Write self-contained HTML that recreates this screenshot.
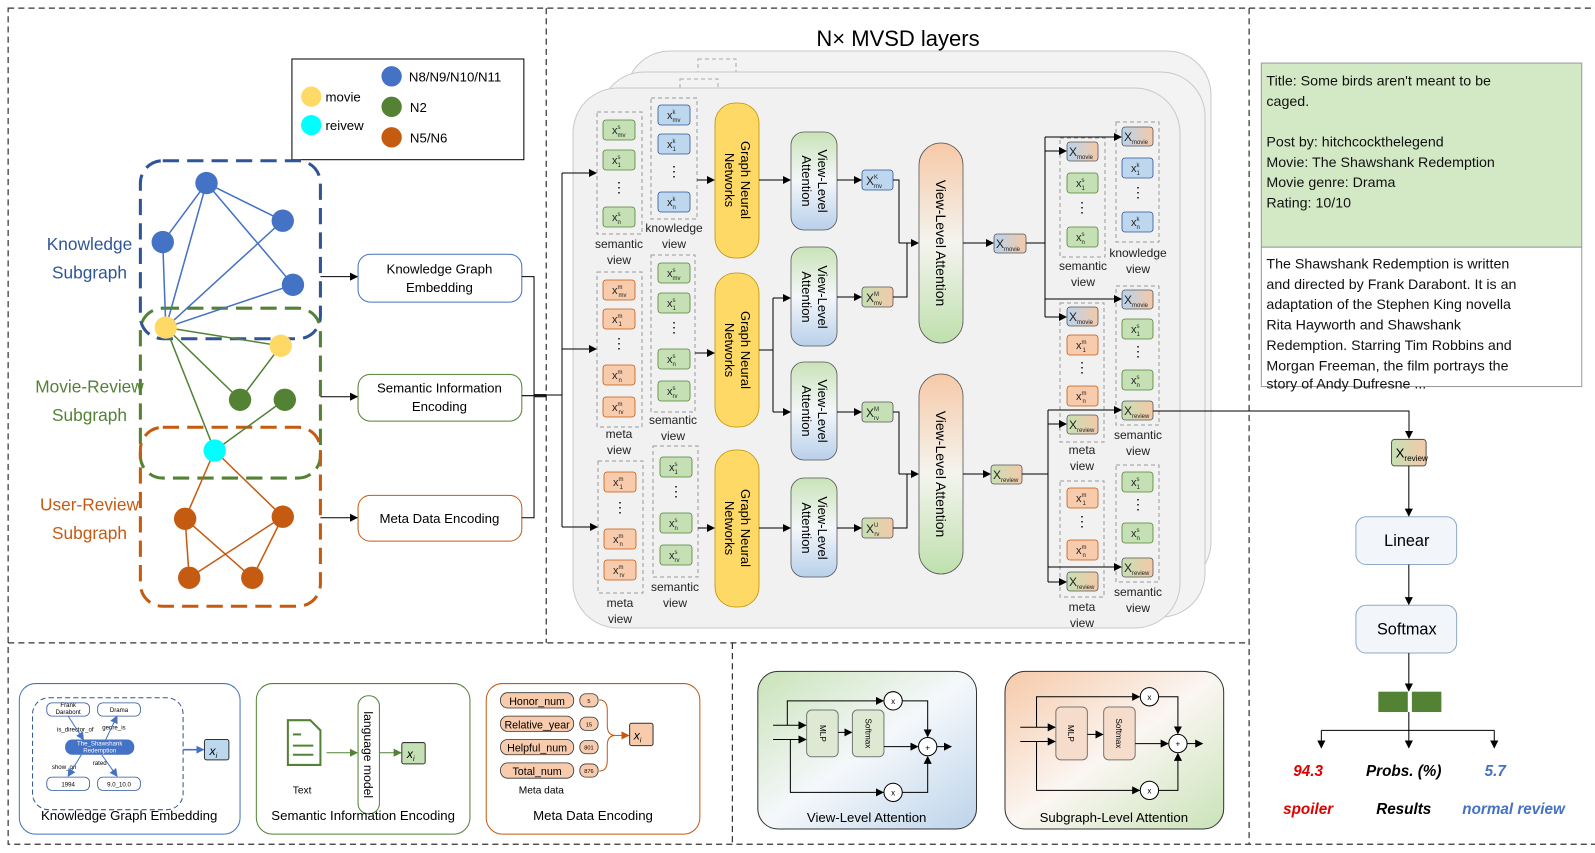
<!DOCTYPE html>
<html><head><meta charset="utf-8"><style>
html,body{margin:0;padding:0;background:#fff}
svg{display:block;font-family:"Liberation Sans",sans-serif}
</style></head><body>
<svg width="1595" height="853" viewBox="0 0 1595 853" xmlns="http://www.w3.org/2000/svg">
<defs>
<marker id="a" markerWidth="8" markerHeight="8" refX="7" refY="4" orient="auto" markerUnits="userSpaceOnUse"><path d="M0,0 L8,4 L0,8 z" fill="#000"/></marker>
<marker id="ab" markerWidth="8" markerHeight="8" refX="7" refY="4" orient="auto" markerUnits="userSpaceOnUse"><path d="M0,0 L8,4 L0,8 z" fill="#4472c4"/></marker>
<marker id="ag" markerWidth="8" markerHeight="8" refX="7" refY="4" orient="auto" markerUnits="userSpaceOnUse"><path d="M0,0 L8,4 L0,8 z" fill="#548235"/></marker>
<marker id="ao" markerWidth="8" markerHeight="8" refX="7" refY="4" orient="auto" markerUnits="userSpaceOnUse"><path d="M0,0 L8,4 L0,8 z" fill="#c55a11"/></marker>
<linearGradient id="gbl" x1="0" y1="0" x2="1" y2="1"><stop offset="0" stop-color="#c9e3b8"/><stop offset="0.5" stop-color="#f5f8fb"/><stop offset="1" stop-color="#bcd3ea"/></linearGradient>
<linearGradient id="gog" x1="0" y1="0" x2="1" y2="1"><stop offset="0" stop-color="#f6c9a8"/><stop offset="0.5" stop-color="#fbf6f2"/><stop offset="1" stop-color="#c9e3b8"/></linearGradient>
<linearGradient id="gmv" x1="0" y1="0" x2="1" y2="0"><stop offset="0" stop-color="#b8d3ee"/><stop offset="1" stop-color="#f4c9a8"/></linearGradient>
<linearGradient id="grv" x1="0" y1="0" x2="1" y2="0"><stop offset="0" stop-color="#c5e0b4"/><stop offset="1" stop-color="#f4c9a8"/></linearGradient>
<linearGradient id="gvl" x1="0" y1="0" x2="0" y2="1"><stop offset="0" stop-color="#c9e3b8"/><stop offset="0.5" stop-color="#f4f7fa"/><stop offset="1" stop-color="#b8d0ea"/></linearGradient>
<linearGradient id="gbig" x1="0" y1="0" x2="0" y2="1"><stop offset="0" stop-color="#f6c9a8"/><stop offset="0.5" stop-color="#f4f4ee"/><stop offset="1" stop-color="#bfe0ad"/></linearGradient>
</defs>

<g transform="scale(1.0172)">
<!-- frame -->
<g fill="none" stroke="#333" stroke-width="1.2" stroke-dasharray="6,4">
<rect x="8" y="8" width="1580" height="822"/>
<line x1="537" y1="8" x2="537" y2="632"/>
<line x1="1228" y1="8" x2="1228" y2="830"/>
<line x1="8" y1="632" x2="1228" y2="632"/>
<line x1="720" y1="632" x2="720" y2="830"/>
</g>

<!-- LEFT PANEL -->
<rect x="287" y="58" width="228" height="99" fill="#fff" stroke="#000"/>
<circle cx="306" cy="95" r="10" fill="#ffd966"/><text x="320" y="100" font-size="13">movie</text>
<circle cx="306" cy="123" r="10" fill="#00ffff"/><text x="320" y="128" font-size="13">reivew</text>
<circle cx="385" cy="75" r="10" fill="#4472c4"/><text x="402" y="80" font-size="13">N8/N9/N10/N11</text>
<circle cx="385" cy="105" r="10" fill="#548235"/><text x="403" y="110" font-size="13">N2</text>
<circle cx="385" cy="135" r="10" fill="#c55a11"/><text x="403" y="140" font-size="13">N5/N6</text>

<g fill="none" stroke-width="3" stroke-dasharray="16,8">
<rect x="138" y="158" width="177" height="175" rx="22" stroke="#2f5597"/>
<rect x="138" y="303" width="177" height="167" rx="22" stroke="#548235"/>
<rect x="138" y="420" width="177" height="176" rx="22" stroke="#c55a11"/>
</g>
<g stroke-width="1.5">
<g stroke="#4472c4">
<line x1="203" y1="180" x2="160" y2="238"/><line x1="203" y1="180" x2="278" y2="217"/><line x1="203" y1="180" x2="288" y2="280"/>
<line x1="203" y1="180" x2="163" y2="322"/><line x1="163" y1="322" x2="278" y2="217"/><line x1="163" y1="322" x2="288" y2="280"/><line x1="160" y1="238" x2="163" y2="322"/>
</g>
<g stroke="#548235">
<line x1="163" y1="322" x2="276" y2="340"/><line x1="163" y1="322" x2="236" y2="393"/><line x1="163" y1="322" x2="211" y2="443"/>
<line x1="211" y1="443" x2="280" y2="393"/><line x1="276" y1="340" x2="236" y2="393"/>
</g>
<g stroke="#c55a11">
<line x1="211" y1="443" x2="182" y2="510"/><line x1="211" y1="443" x2="278" y2="508"/><line x1="182" y1="510" x2="186" y2="568"/>
<line x1="182" y1="510" x2="248" y2="568"/><line x1="278" y1="508" x2="186" y2="568"/><line x1="278" y1="508" x2="248" y2="568"/>
</g>
</g>
<g fill="#4472c4"><circle cx="203" cy="180" r="11"/><circle cx="160" cy="238" r="11"/><circle cx="278" cy="217" r="11"/><circle cx="288" cy="280" r="11"/></g>
<g fill="#ffd966"><circle cx="163" cy="322" r="11"/><circle cx="276" cy="340" r="11"/></g>
<g fill="#548235"><circle cx="236" cy="393" r="11"/><circle cx="280" cy="393" r="11"/></g>
<circle cx="211" cy="443" r="11" fill="#00ffff"/>
<g fill="#c55a11"><circle cx="182" cy="510" r="11"/><circle cx="278" cy="508" r="11"/><circle cx="186" cy="568" r="11"/><circle cx="248" cy="568" r="11"/></g>

<g font-size="17" text-anchor="middle">
<text x="88" y="246" fill="#2f5597">Knowledge</text><text x="88" y="274" fill="#2f5597">Subgraph</text>
<text x="88" y="386" fill="#548235">Movie-Review</text><text x="88" y="414" fill="#548235">Subgraph</text>
<text x="88" y="502" fill="#c55a11">User-Review</text><text x="88" y="530" fill="#c55a11">Subgraph</text>
</g>

<rect x="352" y="250" width="161" height="47" rx="12" fill="#fff" stroke="#4472c4"/>
<text x="432" y="269" font-size="13" text-anchor="middle">Knowledge Graph</text><text x="432" y="287" font-size="13" text-anchor="middle">Embedding</text>
<rect x="352" y="368" width="161" height="46" rx="12" fill="#fff" stroke="#548235"/>
<text x="432" y="386" font-size="13" text-anchor="middle">Semantic Information</text><text x="432" y="404" font-size="13" text-anchor="middle">Encoding</text>
<rect x="352" y="487" width="161" height="45" rx="12" fill="#fff" stroke="#c55a11"/>
<text x="432" y="514" font-size="13" text-anchor="middle">Meta Data Encoding</text>
<g stroke="#000" stroke-width="1" fill="none">
<line x1="315" y1="272" x2="351" y2="272" marker-end="url(#a)"/>
<line x1="315" y1="390" x2="351" y2="390" marker-end="url(#a)"/>
<line x1="315" y1="509" x2="351" y2="509" marker-end="url(#a)"/>
<polyline points="513,272 525,272 525,388 537,388"/>
<polyline points="513,389 537,389"/>
<polyline points="513,509 525,509 525,390 537,390"/>
</g>

<!-- RIGHT PANEL -->
<rect x="1240" y="62" width="315" height="181" fill="#d3e9c5" stroke="#999"/>
<rect x="1240" y="243" width="315" height="137" fill="#fff" stroke="#999"/>
<g font-size="14" fill="#111">
<text x="1245" y="84">Title: Some birds aren't meant to be</text>
<text x="1245" y="104">caged.</text>
<text x="1245" y="144">Post by: hitchcockthelegend</text>
<text x="1245" y="164">Movie: The Shawshank Redemption</text>
<text x="1245" y="184">Movie genre: Drama</text>
<text x="1245" y="204">Rating: 10/10</text>
<text x="1245" y="264">The Shawshank Redemption is written</text>
<text x="1245" y="284">and directed by Frank Darabont. It is an</text>
<text x="1245" y="304">adaptation of the Stephen King novella</text>
<text x="1245" y="324">Rita Hayworth and Shawshank</text>
<text x="1245" y="344">Redemption. Starring Tim Robbins and</text>
<text x="1245" y="364">Morgan Freeman, the film portrays the</text>
<text x="1245" y="382">story of Andy Dufresne ...</text>
</g>
<rect x="1368" y="432" width="34" height="26" rx="3" fill="url(#grv)" stroke="#555"/>
<text x="1372" y="450" font-size="13">X<tspan font-size="8" dy="3">review</tspan></text>
<rect x="1333" y="508" width="99" height="47" rx="10" fill="#f2f6fb" stroke="#8fa9c9"/>
<text x="1383" y="537" font-size="16" text-anchor="middle">Linear</text>
<rect x="1333" y="595" width="99" height="47" rx="10" fill="#f2f6fb" stroke="#8fa9c9"/>
<text x="1383" y="624" font-size="16" text-anchor="middle">Softmax</text>
<g stroke="#000" fill="none">
<line x1="1385" y1="458" x2="1385" y2="507" marker-end="url(#a)"/>
<line x1="1385" y1="555" x2="1385" y2="594" marker-end="url(#a)"/>
<line x1="1385" y1="642" x2="1385" y2="679" marker-end="url(#a)"/>
<line x1="1385" y1="700" x2="1385" y2="718"/>
<line x1="1299" y1="718" x2="1469" y2="718"/>
<line x1="1299" y1="718" x2="1299" y2="735" marker-end="url(#a)"/>
<line x1="1385" y1="718" x2="1385" y2="735" marker-end="url(#a)"/>
<line x1="1469" y1="718" x2="1469" y2="735" marker-end="url(#a)"/>
</g>
<rect x="1355" y="680" width="29" height="20" fill="#548235"/><rect x="1388" y="680" width="29" height="20" fill="#548235"/>
<g font-size="15" font-weight="bold" font-style="italic" text-anchor="middle">
<text x="1286" y="763" fill="#e00000">94.3</text>
<text x="1380" y="763" fill="#000">Probs. (%)</text>
<text x="1470" y="763" fill="#4472c4">5.7</text>
<text x="1286" y="800" fill="#e00000">spoiler</text>
<text x="1380" y="800" fill="#000">Results</text>
<text x="1488" y="800" fill="#4472c4">normal review</text>
</g>

<!-- BOTTOM LEFT -->
<rect x="19" y="672" width="217" height="148" rx="16" fill="#fff" stroke="#4472c4"/>
<rect x="32" y="686" width="148" height="110" rx="16" fill="none" stroke="#2f5597" stroke-dasharray="5,3"/>
<g fill="#fff" stroke="#2f5597" stroke-width="0.8">
<rect x="46" y="691" width="42" height="13" rx="5"/><rect x="96" y="691" width="42" height="13" rx="5"/>
<rect x="46" y="764" width="42" height="13" rx="5"/><rect x="96" y="764" width="42" height="13" rx="5"/>
</g>
<rect x="64" y="727" width="68" height="15" rx="7" fill="#4472c4"/>
<g font-size="6" text-anchor="middle">
<text x="67" y="695">Frank</text><text x="67" y="702">Darabont</text><text x="117" y="700">Drama</text>
<text x="67" y="773">1994</text><text x="117" y="773">9.0_10.0</text>
<text x="98" y="733" fill="#fff">The_Shawshank</text><text x="98" y="740" fill="#fff">Redemption</text>
<text x="74" y="719">is_director_of</text><text x="112" y="717">genre_is</text>
<text x="63" y="756">show_on</text><text x="98" y="752">rated</text>
</g>
<g stroke="#4472c4" fill="none">
<line x1="67" y1="704" x2="82" y2="727" marker-end="url(#ab)"/>
<line x1="104" y1="727" x2="115" y2="704" marker-end="url(#ab)"/>
<line x1="80" y1="742" x2="67" y2="763" marker-end="url(#ab)"/>
<line x1="100" y1="742" x2="115" y2="763" marker-end="url(#ab)"/>
<line x1="180" y1="737" x2="200" y2="737" stroke-width="1.5" marker-end="url(#ab)"/>
</g>
<rect x="201" y="727" width="24" height="20" rx="2" fill="#bdd7ee" stroke="#333"/>
<text x="206" y="742" font-size="12" font-style="italic">x<tspan font-size="7" dy="3">i</tspan></text>
<text x="127" y="806" font-size="13" text-anchor="middle">Knowledge Graph Embedding</text>

<rect x="252" y="672" width="210" height="148" rx="16" fill="#fff" stroke="#548235"/>
<path d="M283,708 h22 l10,10 v34 h-32 z" fill="#fff" stroke="#548235" stroke-width="2"/>
<g stroke="#548235" stroke-width="2"><line x1="288" y1="722" x2="296" y2="722"/><line x1="288" y1="733" x2="308" y2="733"/><line x1="288" y1="742" x2="308" y2="742"/></g>
<text x="297" y="780" font-size="10" text-anchor="middle">Text</text>
<rect x="352" y="684" width="21" height="116" rx="10" fill="#fff" stroke="#548235"/>
<text transform="translate(362,742) rotate(90)" font-size="12" text-anchor="middle" dy="4">language model</text>
<g stroke="#548235" fill="none"><line x1="321" y1="740" x2="351" y2="740" marker-end="url(#ag)"/><line x1="373" y1="740" x2="394" y2="740" marker-end="url(#ag)"/></g>
<rect x="395" y="730" width="23" height="21" rx="2" fill="#c5e0b4" stroke="#333"/>
<text x="400" y="745" font-size="12" font-style="italic">x<tspan font-size="7" dy="3">i</tspan></text>
<text x="357" y="806" font-size="13" text-anchor="middle">Semantic Information Encoding</text>

<rect x="478" y="672" width="210" height="148" rx="16" fill="#fff" stroke="#c55a11"/>
<g fill="#f8cbad" stroke="#333" stroke-width="0.8">
<rect x="492" y="681" width="72" height="15" rx="7"/><rect x="492" y="704" width="72" height="15" rx="7"/>
<rect x="492" y="727" width="72" height="15" rx="7"/><rect x="492" y="750" width="72" height="15" rx="7"/>
<rect x="570" y="682" width="18" height="13" rx="6"/><rect x="570" y="705" width="18" height="13" rx="6"/>
<rect x="570" y="728" width="18" height="13" rx="6"/><rect x="570" y="751" width="18" height="13" rx="6"/>
</g>
<g font-size="10.5" text-anchor="middle">
<text x="528" y="693">Honor_num</text><text x="528" y="716">Relative_year</text>
<text x="528" y="739">Helpful_num</text><text x="528" y="762">Total_num</text>
</g>
<g font-size="5.5" text-anchor="middle"><text x="579" y="691">5</text><text x="579" y="714">15</text><text x="579" y="737">801</text><text x="579" y="760">876</text></g>
<text x="510" y="780" font-size="10">Meta data</text>
<path d="M589,688 q8,0 8,10 v15 q0,10 8,10 q-8,0 -8,10 v15 q0,10 -8,10" fill="none" stroke="#c55a11"/>
<line x1="605" y1="723" x2="618" y2="723" stroke="#c55a11" marker-end="url(#ao)"/>
<rect x="619" y="711" width="23" height="22" rx="2" fill="#f8cbad" stroke="#333"/>
<text x="623" y="727" font-size="12" font-style="italic">x<tspan font-size="7" dy="3">i</tspan></text>
<text x="583" y="806" font-size="13" text-anchor="middle">Meta Data Encoding</text>

<!-- attention detail boxes -->
<rect x="745" y="660" width="215" height="155" rx="20" fill="url(#gbl)" stroke="#333"/>
<rect x="988" y="660" width="215" height="155" rx="20" fill="url(#gog)" stroke="#333"/>
<g font-size="13" text-anchor="middle"><text x="852" y="808">View-Level Attention</text><text x="1095" y="808">Subgraph-Level Attention</text></g>
<g stroke="#000" fill="none">
<g transform="translate(745,660)">
<rect x="48" y="38" width="31" height="46" rx="5" fill="#dde9d2" stroke="#777"/>
<rect x="93" y="38" width="31" height="46" rx="5" fill="#dde9d2" stroke="#777"/>
<circle cx="133" cy="29" r="9" fill="#fff"/><circle cx="133" cy="119" r="9" fill="#fff"/><circle cx="167" cy="74" r="9" fill="#fff"/>
<line x1="15" y1="53" x2="47" y2="53" marker-end="url(#a)"/><line x1="15" y1="67" x2="47" y2="67" marker-end="url(#a)"/>
<polyline points="29,53 29,29 123,29" marker-end="url(#a)"/><polyline points="32,67 32,119 123,119" marker-end="url(#a)"/>
<line x1="79" y1="60" x2="92" y2="60" marker-end="url(#a)"/><line x1="124" y1="74" x2="157" y2="74" marker-end="url(#a)"/>
<polyline points="142,29 167,29 167,64" marker-end="url(#a)"/><polyline points="142,119 167,119 167,84" marker-end="url(#a)"/>
<line x1="176" y1="74" x2="190" y2="74" marker-end="url(#a)"/>
</g>
<g transform="translate(988,660)">
<rect x="50" y="35" width="31" height="52" rx="5" fill="#f6dccb" stroke="#777"/>
<rect x="97" y="35" width="31" height="52" rx="5" fill="#f6dccb" stroke="#777"/>
<circle cx="142" cy="25" r="9" fill="#fff"/><circle cx="142" cy="117" r="9" fill="#fff"/><circle cx="170" cy="71" r="9" fill="#fff"/>
<line x1="15" y1="55" x2="49" y2="55" marker-end="url(#a)"/><line x1="15" y1="69" x2="49" y2="69" marker-end="url(#a)"/>
<polyline points="31,55 31,25 132,25" marker-end="url(#a)"/><polyline points="31,69 31,117 132,117" marker-end="url(#a)"/>
<line x1="81" y1="62" x2="96" y2="62" marker-end="url(#a)"/><line x1="128" y1="71" x2="160" y2="71" marker-end="url(#a)"/>
<polyline points="151,25 170,25 170,61" marker-end="url(#a)"/><polyline points="151,117 170,117 170,81" marker-end="url(#a)"/>
<line x1="179" y1="71" x2="194" y2="71" marker-end="url(#a)"/>
</g>
</g>
<g font-size="8" text-anchor="middle">
<text transform="translate(809,721) rotate(90)" dy="3">MLP</text><text transform="translate(854,721) rotate(90)" dy="3">Softmax</text>
<text transform="translate(1053,721) rotate(90)" dy="3">MLP</text><text transform="translate(1100,721) rotate(90)" dy="3">Softmax</text>
<text x="878" y="692">x</text><text x="878" y="782">x</text><text x="912" y="738">+</text>
<text x="1130" y="688">x</text><text x="1130" y="780">x</text><text x="1158" y="734">+</text>
</g>
</g>

<!-- ===== MIDDLE (actual coordinates) ===== -->
<text x="898" y="46" font-size="22" text-anchor="middle">N× MVSD layers</text>
<rect x="626" y="51" width="585" height="535" rx="44" fill="#f3f3f3" stroke="#c8c8c8"/>
<rect x="698" y="59" width="38" height="40" fill="none" stroke="#aaa" stroke-dasharray="4,3"/>
<rect x="600" y="72" width="605" height="545" rx="44" fill="#f3f3f3" stroke="#c8c8c8"/>
<rect x="680" y="79" width="38" height="40" fill="none" stroke="#aaa" stroke-dasharray="4,3"/>
<rect x="573" y="88" width="607" height="540" rx="45" fill="#f1f1f1" stroke="#c8c8c8"/>

<!-- dashed columns -->
<g fill="none" stroke="#999" stroke-dasharray="4,3">
<rect x="597" y="112" width="45" height="122"/>
<rect x="651" y="98" width="46" height="121"/>
<rect x="597" y="272" width="45" height="155"/>
<rect x="651" y="255" width="44" height="157"/>
<rect x="598" y="461" width="45" height="132"/>
<rect x="653" y="446" width="45" height="131"/>
<rect x="1060" y="138" width="45" height="119"/>
<rect x="1116" y="122" width="43" height="120"/>
<rect x="1060" y="303" width="44" height="139"/>
<rect x="1116" y="286" width="43" height="139"/>
<rect x="1060" y="481" width="44" height="116"/>
<rect x="1116" y="465" width="43" height="117"/>
</g>
<g stroke-width="0.8">
<g fill="#c5e0b4" stroke="#548235">
<rect x="603" y="120" width="32" height="20" rx="3"/><rect x="603" y="150" width="32" height="20" rx="3"/><rect x="603" y="207" width="32" height="20" rx="3"/>
<rect x="658" y="263" width="32" height="20" rx="3"/><rect x="658" y="293" width="32" height="20" rx="3"/><rect x="658" y="349" width="32" height="20" rx="3"/><rect x="658" y="381" width="32" height="20" rx="3"/>
<rect x="660" y="457" width="32" height="20" rx="3"/><rect x="660" y="513" width="32" height="20" rx="3"/><rect x="660" y="545" width="32" height="20" rx="3"/>
<rect x="1067" y="173" width="31" height="20" rx="3"/><rect x="1067" y="227" width="31" height="20" rx="3"/>
<rect x="1122" y="319" width="31" height="20" rx="3"/><rect x="1122" y="370" width="31" height="20" rx="3"/>
<rect x="1122" y="472" width="31" height="20" rx="3"/><rect x="1122" y="523" width="31" height="20" rx="3"/>
</g>
<g fill="#bdd7ee" stroke="#2f5597">
<rect x="658" y="105" width="32" height="20" rx="3"/><rect x="658" y="134" width="32" height="20" rx="3"/><rect x="658" y="192" width="32" height="20" rx="3"/>
<rect x="1122" y="158" width="31" height="20" rx="3"/><rect x="1122" y="212" width="31" height="20" rx="3"/>
<rect x="862" y="170" width="31" height="20" rx="3"/>
</g>
<g fill="#f8cbad" stroke="#c55a11">
<rect x="603" y="280" width="32" height="20" rx="3"/><rect x="603" y="309" width="32" height="20" rx="3"/><rect x="603" y="365" width="32" height="20" rx="3"/><rect x="603" y="397" width="32" height="20" rx="3"/>
<rect x="604" y="472" width="32" height="20" rx="3"/><rect x="604" y="529" width="32" height="20" rx="3"/><rect x="604" y="560" width="32" height="20" rx="3"/>
<rect x="1067" y="335" width="31" height="20" rx="3"/><rect x="1067" y="386" width="31" height="20" rx="3"/>
<rect x="1067" y="488" width="31" height="20" rx="3"/><rect x="1067" y="540" width="31" height="20" rx="3"/>
</g>
<g stroke="#555">
<rect x="862" y="287" width="31" height="20" rx="3" fill="url(#grv)"/>
<rect x="862" y="402" width="31" height="20" rx="3" fill="#c5e0b4"/>
<rect x="862" y="518" width="31" height="20" rx="3" fill="url(#grv)"/>
<rect x="1067" y="142" width="31" height="19" rx="3" fill="url(#gmv)"/>
<rect x="1122" y="127" width="31" height="19" rx="3" fill="url(#gmv)"/>
<rect x="1067" y="307" width="31" height="19" rx="3" fill="url(#gmv)"/>
<rect x="1122" y="290" width="31" height="19" rx="3" fill="url(#gmv)"/>
<rect x="1067" y="415" width="31" height="19" rx="3" fill="url(#grv)"/>
<rect x="1122" y="401" width="31" height="19" rx="3" fill="url(#grv)"/>
<rect x="1067" y="572" width="31" height="19" rx="3" fill="url(#grv)"/>
<rect x="1122" y="558" width="31" height="19" rx="3" fill="url(#grv)"/>
<rect x="994" y="234" width="32" height="19" rx="3" fill="url(#gmv)"/>
<rect x="991" y="465" width="31" height="19" rx="3" fill="url(#grv)"/>
</g>
</g>
<!-- token labels -->
<g font-size="11" fill="#222">
<text x="612" y="134">x<tspan font-size="6" dy="-5">s</tspan><tspan font-size="6" dx="-3" dy="8">mv</tspan></text>
<text x="612" y="164">x<tspan font-size="6" dy="-5">s</tspan><tspan font-size="6" dx="-3" dy="8">1</tspan></text>
<text x="612" y="221">x<tspan font-size="6" dy="-5">s</tspan><tspan font-size="6" dx="-3" dy="8">n</tspan></text>
<text x="667" y="119">x<tspan font-size="6" dy="-5">k</tspan><tspan font-size="6" dx="-3" dy="8">mv</tspan></text>
<text x="667" y="148">x<tspan font-size="6" dy="-5">k</tspan><tspan font-size="6" dx="-3" dy="8">1</tspan></text>
<text x="667" y="206">x<tspan font-size="6" dy="-5">k</tspan><tspan font-size="6" dx="-3" dy="8">n</tspan></text>
<text x="612" y="294">x<tspan font-size="6" dy="-5">m</tspan><tspan font-size="6" dx="-4" dy="8">mv</tspan></text>
<text x="612" y="323">x<tspan font-size="6" dy="-5">m</tspan><tspan font-size="6" dx="-4" dy="8">1</tspan></text>
<text x="612" y="379">x<tspan font-size="6" dy="-5">m</tspan><tspan font-size="6" dx="-4" dy="8">n</tspan></text>
<text x="612" y="411">x<tspan font-size="6" dy="-5">m</tspan><tspan font-size="6" dx="-4" dy="8">rv</tspan></text>
<text x="667" y="277">x<tspan font-size="6" dy="-5">s</tspan><tspan font-size="6" dx="-3" dy="8">mv</tspan></text>
<text x="667" y="307">x<tspan font-size="6" dy="-5">s</tspan><tspan font-size="6" dx="-3" dy="8">1</tspan></text>
<text x="667" y="363">x<tspan font-size="6" dy="-5">s</tspan><tspan font-size="6" dx="-3" dy="8">n</tspan></text>
<text x="667" y="395">x<tspan font-size="6" dy="-5">s</tspan><tspan font-size="6" dx="-3" dy="8">rv</tspan></text>
<text x="613" y="486">x<tspan font-size="6" dy="-5">m</tspan><tspan font-size="6" dx="-4" dy="8">1</tspan></text>
<text x="613" y="543">x<tspan font-size="6" dy="-5">m</tspan><tspan font-size="6" dx="-4" dy="8">n</tspan></text>
<text x="613" y="574">x<tspan font-size="6" dy="-5">m</tspan><tspan font-size="6" dx="-4" dy="8">rv</tspan></text>
<text x="669" y="471">x<tspan font-size="6" dy="-5">s</tspan><tspan font-size="6" dx="-3" dy="8">1</tspan></text>
<text x="669" y="527">x<tspan font-size="6" dy="-5">s</tspan><tspan font-size="6" dx="-3" dy="8">n</tspan></text>
<text x="669" y="559">x<tspan font-size="6" dy="-5">s</tspan><tspan font-size="6" dx="-3" dy="8">rv</tspan></text>
<text x="1076" y="187">x<tspan font-size="6" dy="-5">s</tspan><tspan font-size="6" dx="-3" dy="8">1</tspan></text>
<text x="1076" y="241">x<tspan font-size="6" dy="-5">s</tspan><tspan font-size="6" dx="-3" dy="8">n</tspan></text>
<text x="1131" y="172">x<tspan font-size="6" dy="-5">k</tspan><tspan font-size="6" dx="-3" dy="8">1</tspan></text>
<text x="1131" y="226">x<tspan font-size="6" dy="-5">k</tspan><tspan font-size="6" dx="-3" dy="8">n</tspan></text>
<text x="1076" y="349">x<tspan font-size="6" dy="-5">m</tspan><tspan font-size="6" dx="-4" dy="8">1</tspan></text>
<text x="1076" y="400">x<tspan font-size="6" dy="-5">m</tspan><tspan font-size="6" dx="-4" dy="8">n</tspan></text>
<text x="1131" y="333">x<tspan font-size="6" dy="-5">s</tspan><tspan font-size="6" dx="-3" dy="8">1</tspan></text>
<text x="1131" y="384">x<tspan font-size="6" dy="-5">s</tspan><tspan font-size="6" dx="-3" dy="8">n</tspan></text>
<text x="1076" y="502">x<tspan font-size="6" dy="-5">m</tspan><tspan font-size="6" dx="-4" dy="8">1</tspan></text>
<text x="1076" y="554">x<tspan font-size="6" dy="-5">m</tspan><tspan font-size="6" dx="-4" dy="8">n</tspan></text>
<text x="1131" y="486">x<tspan font-size="6" dy="-5">s</tspan><tspan font-size="6" dx="-3" dy="8">1</tspan></text>
<text x="1131" y="537">x<tspan font-size="6" dy="-5">s</tspan><tspan font-size="6" dx="-3" dy="8">n</tspan></text>
<text x="866" y="185" font-size="12">X<tspan font-size="6" dy="-6">K</tspan><tspan font-size="6" dx="-4" dy="9">mv</tspan></text>
<text x="866" y="302" font-size="12">X<tspan font-size="6" dy="-6">M</tspan><tspan font-size="6" dx="-5" dy="9">mv</tspan></text>
<text x="866" y="417" font-size="12">X<tspan font-size="6" dy="-6">M</tspan><tspan font-size="6" dx="-5" dy="9">rv</tspan></text>
<text x="866" y="533" font-size="12">X<tspan font-size="6" dy="-6">U</tspan><tspan font-size="6" dx="-4" dy="9">rv</tspan></text>
<text x="996" y="248" font-size="12">X<tspan font-size="6" dy="3">movie</tspan></text>
<text x="993" y="479" font-size="12">X<tspan font-size="6" dy="3">review</tspan></text>
<text x="1069" y="156" font-size="12">X<tspan font-size="6" dy="3">movie</tspan></text>
<text x="1124" y="141" font-size="12">X<tspan font-size="6" dy="3">movie</tspan></text>
<text x="1069" y="321" font-size="12">X<tspan font-size="6" dy="3">movie</tspan></text>
<text x="1124" y="304" font-size="12">X<tspan font-size="6" dy="3">movie</tspan></text>
<text x="1069" y="429" font-size="12">X<tspan font-size="6" dy="3">review</tspan></text>
<text x="1124" y="415" font-size="12">X<tspan font-size="6" dy="3">review</tspan></text>
<text x="1069" y="586" font-size="12">X<tspan font-size="6" dy="3">review</tspan></text>
<text x="1124" y="572" font-size="12">X<tspan font-size="6" dy="3">review</tspan></text>
</g>
<g font-size="14" text-anchor="middle">
<text x="619" y="192">⋮</text><text x="674" y="176">⋮</text>
<text x="619" y="348">⋮</text><text x="674" y="332">⋮</text>
<text x="620" y="512">⋮</text><text x="676" y="496">⋮</text>
<text x="1082" y="212">⋮</text><text x="1138" y="197">⋮</text>
<text x="1082" y="372">⋮</text><text x="1138" y="356">⋮</text>
<text x="1082" y="526">⋮</text><text x="1138" y="509">⋮</text>
</g>
<g font-size="12" text-anchor="middle" fill="#222">
<text x="619" y="248">semantic</text><text x="619" y="264">view</text>
<text x="674" y="232">knowledge</text><text x="674" y="248">view</text>
<text x="619" y="438">meta</text><text x="619" y="454">view</text>
<text x="673" y="424">semantic</text><text x="673" y="440">view</text>
<text x="620" y="607">meta</text><text x="620" y="623">view</text>
<text x="675" y="591">semantic</text><text x="675" y="607">view</text>
<text x="1083" y="270">semantic</text><text x="1083" y="286">view</text>
<text x="1138" y="257">knowledge</text><text x="1138" y="273">view</text>
<text x="1082" y="454">meta</text><text x="1082" y="470">view</text>
<text x="1138" y="439">semantic</text><text x="1138" y="455">view</text>
<text x="1082" y="611">meta</text><text x="1082" y="627">view</text>
<text x="1138" y="596">semantic</text><text x="1138" y="612">view</text>
</g>

<!-- GNNs -->
<g fill="#ffd966" stroke="#bf9000" stroke-width="0.8">
<rect x="715" y="103" width="44" height="155" rx="20"/>
<rect x="715" y="273" width="44" height="154" rx="20"/>
<rect x="715" y="450" width="44" height="157" rx="20"/>
</g>
<g font-size="13" text-anchor="middle">
<text transform="translate(737,180) rotate(90)"><tspan x="0" dy="-4">Graph Neural</tspan><tspan x="0" dy="16">Networks</tspan></text>
<text transform="translate(737,350) rotate(90)"><tspan x="0" dy="-4">Graph Neural</tspan><tspan x="0" dy="16">Networks</tspan></text>
<text transform="translate(737,528) rotate(90)"><tspan x="0" dy="-4">Graph Neural</tspan><tspan x="0" dy="16">Networks</tspan></text>
</g>
<g fill="url(#gvl)" stroke="#555" stroke-width="0.8">
<rect x="791" y="132" width="46" height="98" rx="13"/>
<rect x="791" y="247" width="46" height="99" rx="13"/>
<rect x="791" y="362" width="46" height="98" rx="13"/>
<rect x="791" y="478" width="46" height="99" rx="13"/>
</g>
<g font-size="13" text-anchor="middle">
<text transform="translate(814,181) rotate(90)"><tspan x="0" dy="-4">View-Level</tspan><tspan x="0" dy="16">Attention</tspan></text>
<text transform="translate(814,297) rotate(90)"><tspan x="0" dy="-4">View-Level</tspan><tspan x="0" dy="16">Attention</tspan></text>
<text transform="translate(814,411) rotate(90)"><tspan x="0" dy="-4">View-Level</tspan><tspan x="0" dy="16">Attention</tspan></text>
<text transform="translate(814,528) rotate(90)"><tspan x="0" dy="-4">View-Level</tspan><tspan x="0" dy="16">Attention</tspan></text>
</g>
<g fill="url(#gbig)" stroke="#555" stroke-width="0.8">
<rect x="919" y="143" width="44" height="200" rx="22"/>
<rect x="919" y="374" width="44" height="200" rx="22"/>
</g>
<g font-size="14" text-anchor="middle">
<text transform="translate(941,243) rotate(90)" dy="5">View-Level Attention</text>
<text transform="translate(941,474) rotate(90)" dy="5">View-Level Attention</text>
</g>

<g stroke="#000" stroke-width="1" fill="none">
<line x1="546" y1="395" x2="562" y2="395"/>
<line x1="562" y1="173" x2="562" y2="527"/>
<line x1="562" y1="173" x2="596" y2="173" marker-end="url(#a)"/>
<line x1="562" y1="349" x2="596" y2="349" marker-end="url(#a)"/>
<line x1="562" y1="527" x2="597" y2="527" marker-end="url(#a)"/>
<line x1="697" y1="180" x2="714" y2="180" marker-end="url(#a)"/>
<line x1="695" y1="353" x2="714" y2="353" marker-end="url(#a)"/>
<line x1="698" y1="528" x2="714" y2="528" marker-end="url(#a)"/>
<line x1="759" y1="180" x2="790" y2="180" marker-end="url(#a)"/>
<polyline points="759,350 773,350"/>
<line x1="773" y1="298" x2="773" y2="412"/>
<line x1="773" y1="298" x2="790" y2="298" marker-end="url(#a)"/>
<line x1="773" y1="412" x2="790" y2="412" marker-end="url(#a)"/>
<line x1="759" y1="528" x2="790" y2="528" marker-end="url(#a)"/>
<line x1="837" y1="180" x2="861" y2="180" marker-end="url(#a)"/>
<line x1="837" y1="297" x2="861" y2="297" marker-end="url(#a)"/>
<line x1="837" y1="412" x2="861" y2="412" marker-end="url(#a)"/>
<line x1="837" y1="528" x2="861" y2="528" marker-end="url(#a)"/>
<polyline points="893,180 899,180 899,243"/>
<polyline points="893,297 907,297 907,243"/>
<line x1="899" y1="243" x2="918" y2="243" marker-end="url(#a)"/>
<polyline points="893,412 899,412 899,474"/>
<polyline points="893,528 907,528 907,474"/>
<line x1="899" y1="474" x2="918" y2="474" marker-end="url(#a)"/>
<line x1="963" y1="243" x2="993" y2="243" marker-end="url(#a)"/>
<line x1="963" y1="474" x2="990" y2="474" marker-end="url(#a)"/>
<line x1="1026" y1="243" x2="1045" y2="243"/>
<line x1="1045" y1="137" x2="1045" y2="317"/>
<line x1="1045" y1="137" x2="1121" y2="137" marker-end="url(#a)"/>
<line x1="1045" y1="151" x2="1066" y2="151" marker-end="url(#a)"/>
<line x1="1045" y1="299" x2="1121" y2="299" marker-end="url(#a)"/>
<line x1="1045" y1="317" x2="1066" y2="317" marker-end="url(#a)"/>
<line x1="1022" y1="474" x2="1048" y2="474"/>
<line x1="1048" y1="410" x2="1048" y2="582"/>
<line x1="1048" y1="410" x2="1121" y2="410" marker-end="url(#a)"/>
<line x1="1048" y1="424" x2="1066" y2="424" marker-end="url(#a)"/>
<line x1="1048" y1="567" x2="1121" y2="567" marker-end="url(#a)"/>
<line x1="1048" y1="582" x2="1066" y2="582" marker-end="url(#a)"/>
<polyline points="1153,411 1409,411 1409,438" marker-end="url(#a)"/>
</g>
</svg>
</body></html>
